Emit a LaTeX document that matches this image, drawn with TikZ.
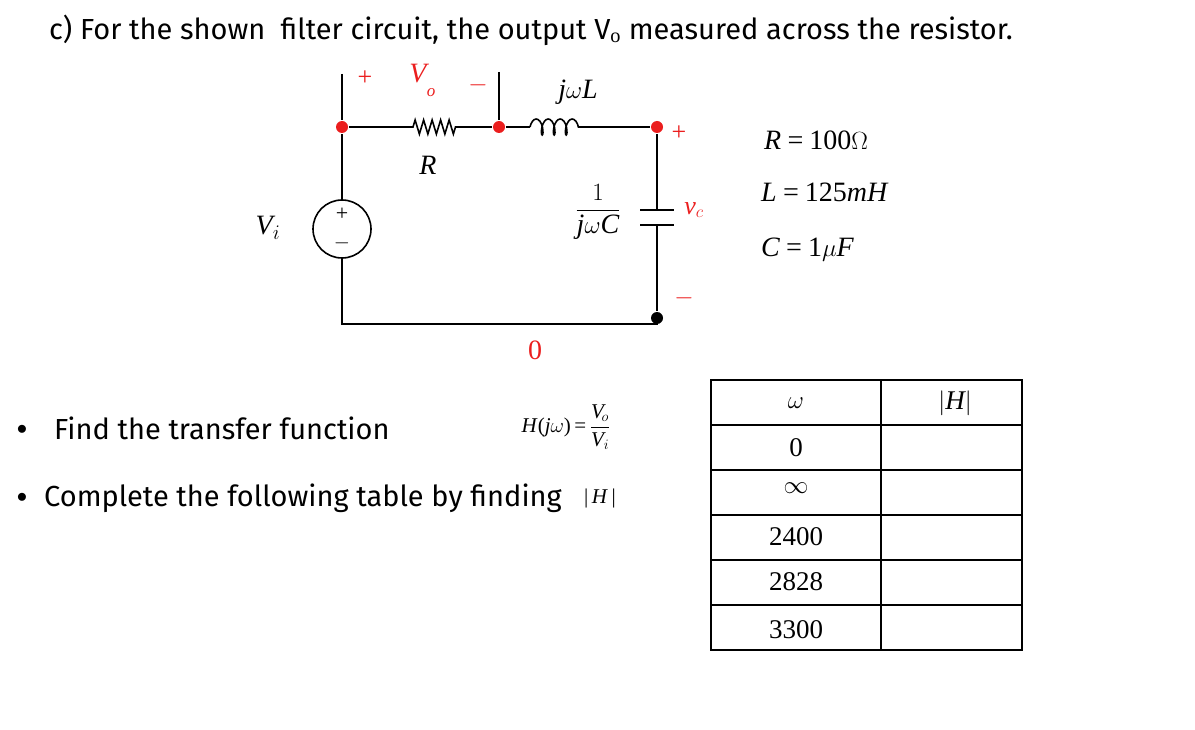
\documentclass[tikz,border=0pt]{standalone}
\usepackage{fontspec}
\setmainfont{Liberation Serif}
\newfontfamily\cs{Fira Sans}
\usetikzlibrary{decorations.pathmorphing}
\definecolor{rd}{RGB}{235,30,30}
\begin{document}
\begin{tikzpicture}[x=1pt,y=-1pt,line width=1.6pt,
  lbl/.style={font=\fontsize{28}{30}\selectfont\itshape},
  rl/.style={text=rd,font=\fontsize{26}{28}\selectfont},
  dot/.style={circle,fill=rd,inner sep=0,minimum size=12pt},
  bdot/.style={circle,fill=black,inner sep=0,minimum size=12pt},
  txt/.style={font=\cs\fontsize{29}{31}\selectfont,anchor=west},
  cell/.style={font=\fontsize{27}{29}\selectfont}]
\useasboundingbox (0,0) rectangle (1195,730);
\node[txt] (title) at (45,30) {c) For the shown\ \ filter circuit, the output V$_{\mathrm o}$ measured across the resistor.};
% nodes
\node[dot] (a) at (342,127) {};
\node[dot] (b) at (499,127) {};
\node[dot] (c) at (657,127) {};
\node[bdot] (d) at (657,318) {};
\coordinate (at) at (342,74);
\coordinate (bt) at (499,72);
\node[circle,draw,minimum size=58pt,inner sep=0] (src) at (342,229) {};
\node[inner sep=0] (sp) at (342,214) {\fontsize{22}{22}\selectfont +};
\node[inner sep=0] (sm) at (342,243) {\fontsize{22}{22}\selectfont $-$};
\coordinate (bl) at (342,324);
\coordinate (br) at (657,324);
\coordinate (r1) at (410,127);
\coordinate (r2) at (461,127);
\coordinate (l1) at (530,127);
\coordinate (l2) at (590,127);
\coordinate (c1) at (657,210);
\coordinate (c2) at (657,225);
\draw (at) -- (a) -- (r1);
\draw[decorate,decoration={zigzag,segment length=8.5pt,amplitude=7pt,pre length=3pt,post length=3pt}] (r1) -- (r2);
\draw (r2) -- (b) -- (l1);
\draw (bt) -- (b);
\draw[decorate,decoration={coil,aspect=0.4,segment length=12pt,amplitude=8pt}] (l1) -- (l2);
\draw (l2) -- (c) -- (c1);
\draw (640,210) -- (674,210);
\draw (640,225) -- (674,225);
\draw (c2) -- (d) -- (br) -- (bl) -- (src.south);
\draw (src.north) -- (a);
% labels
\node[rl] (p1) at (365,78) {+};
\node[rl,font=\fontsize{28}{30}\selectfont\itshape] (vo) at (418,74) {V};
\node[rl,font=\fontsize{17}{18}\selectfont\itshape] (vos) at (431,93) {o};
\node[rl] (m1) at (478,85) {$-$};
\node[lbl] (jl) at (578,92) {j$\omega$L};
\node[lbl] (rr) at (428,165) {R};
\node[font=\fontsize{28}{30}\selectfont] (cap) at (598,212) {$\displaystyle\frac{1}{\textit{j}\omega \textit{C}}$};
\node[rl,font=\fontsize{26}{28}\selectfont\itshape] (vc) at (694,210) {v$_{c}$};
\node[rl] (p2) at (679,133) {+};
\node[rl] (m2) at (684,298) {$-$};
\node[lbl] (vi) at (268,228) {V$_{i}$};
\node[rl,font=\fontsize{28}{30}\selectfont] (zero) at (535,350) {0};
\node[lbl,anchor=west] (rv) at (760,140) {\textit{R}\,=\,\upshape 100$\Omega$};
\node[lbl,anchor=west] (lv) at (757,192) {\textit{L}\,=\,\upshape 125\textit{mH}};
\node[lbl,anchor=west] (cv) at (757,250) {\textit{C}\,=\,\upshape 1$\mu$\textit{F}};
% bullets
\node[font=\fontsize{22}{22}\selectfont] (b1) at (22,430) {$\bullet$};
\node[font=\fontsize{22}{22}\selectfont] (b2) at (22,498) {$\bullet$};
\node[txt] (t1) at (50,428) {Find the transfer function};
\node[txt] (t2) at (40,498) {Complete the following table by finding};
\node[font=\fontsize{21}{23}\selectfont] (hj) at (566,427) {\textit{H}(\textit{j}$\omega$)\,=\,$\displaystyle\frac{\textit{V}_{\!o}}{\textit{V}_{i}}$};
\node[font=\fontsize{21}{23}\selectfont] (hh) at (600,498) {|\,\textit{H}\,|};
% table
\draw[line width=1.2pt] (711,380) rectangle (1022,650);
\draw[line width=1.2pt] (881,380) -- (881,650);
\foreach \y in {425,470,515,560,605} \draw[line width=1.2pt] (711,\y) -- (1022,\y);
\node[cell] (w) at (796,403) {$\omega$};
\node[cell] (hd) at (955,403) {$|\textit{H}|$};
\node[cell] (v0) at (796,448) {0};
\node[cell] (vinf) at (796,488) {$\infty$};
\node[cell] (v1) at (796,537) {2400};
\node[cell] (v2) at (796,582) {2828};
\node[cell] (v3) at (796,630) {3300};
\end{tikzpicture}
\end{document}
